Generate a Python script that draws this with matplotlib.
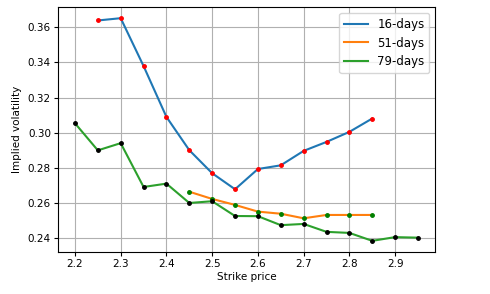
import matplotlib
matplotlib.use("Agg")
import matplotlib.pyplot as plt

# strike prices and implied vols per maturity
strikes_16 = [2.25, 2.30, 2.35, 2.40, 2.45, 2.50, 2.55, 2.60, 2.65, 2.70, 2.75, 2.80, 2.85]
iv_16 = [0.3638, 0.3651, 0.3379, 0.3090, 0.2901, 0.2770, 0.2679, 0.2794, 0.2815,
         0.2897, 0.2948, 0.3005, 0.3081]

strikes_51 = [2.45, 2.50, 2.55, 2.60, 2.65, 2.70, 2.75, 2.80, 2.85]
iv_51 = [0.2665, 0.2624, 0.2590, 0.2552, 0.2540, 0.2514, 0.2533, 0.2533, 0.2533]

strikes_79 = [2.20, 2.25, 2.30, 2.35, 2.40, 2.45, 2.50, 2.55, 2.60, 2.65, 2.70,
              2.75, 2.80, 2.85, 2.90, 2.95]
iv_79 = [0.3054, 0.2900, 0.2941, 0.2692, 0.2711, 0.2601, 0.2611, 0.2527, 0.2526,
         0.2475, 0.2482, 0.2437, 0.2431, 0.2386, 0.2407, 0.2404]

fig = plt.figure(figsize=(4.9, 2.94), dpi=100)
ax = fig.add_axes([0.118, 0.143, 0.770, 0.833])

ax.plot(strikes_16, iv_16, label="16-days")
ax.plot(strikes_16, iv_16, "r.", markersize=5)
ax.plot(strikes_51, iv_51, label="51-days")
ax.plot(strikes_51, iv_51, "g.", markersize=5)
ax.plot(strikes_79, iv_79, label="79-days")
ax.plot(strikes_79, iv_79, "k.", markersize=5)

ax.set_xlabel("Strike price", fontsize=7.5, labelpad=2)
ax.set_ylabel("Implied volatility", fontsize=7.5, labelpad=4)
ax.tick_params(labelsize=7.5, length=3, pad=2)
ax.grid(True)

handles, labels = ax.get_legend_handles_labels()
ax.legend(handles[:3], labels[:3], loc="upper right", fontsize=8.5)

fig.savefig("out.png", dpi=100)
